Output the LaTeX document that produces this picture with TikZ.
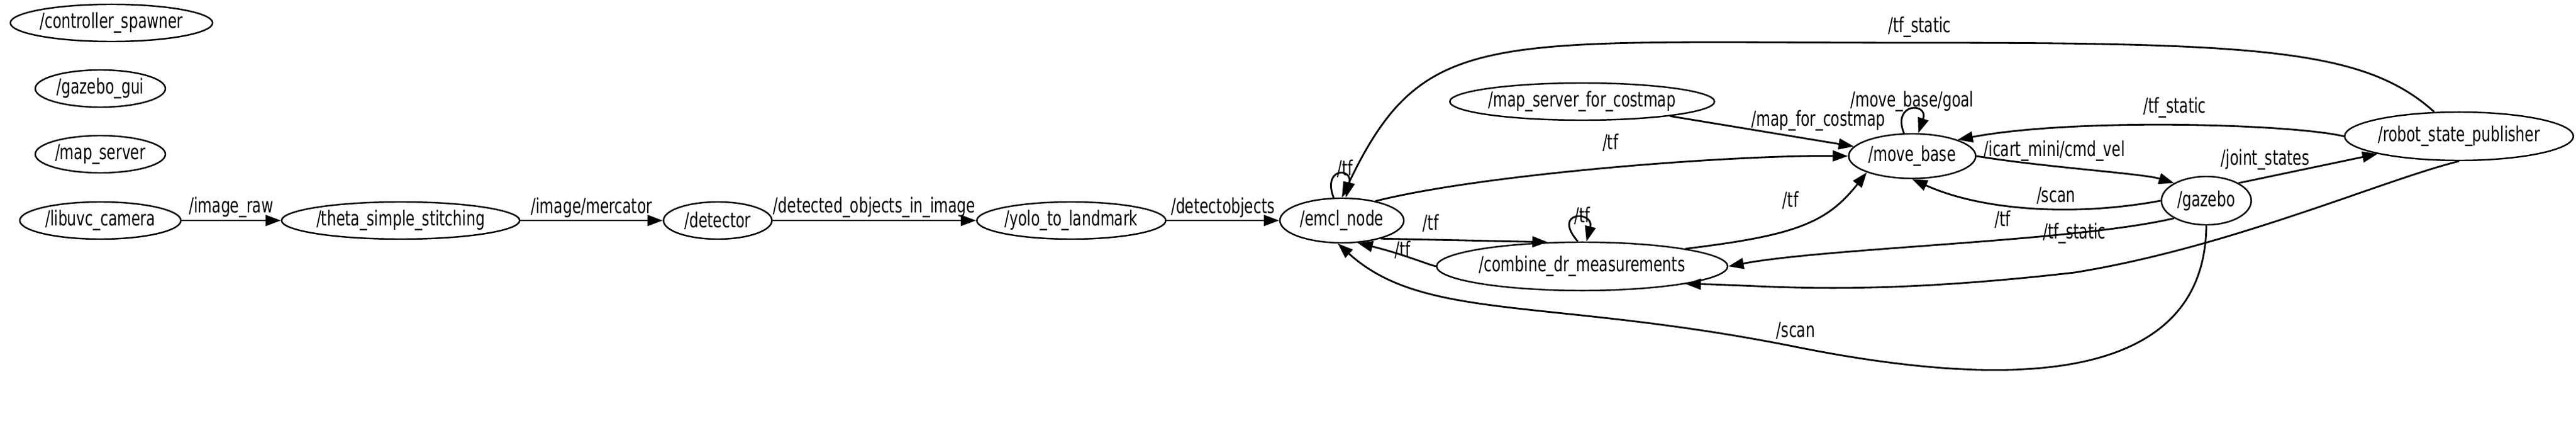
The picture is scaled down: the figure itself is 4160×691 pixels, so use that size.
\documentclass[tikz,border=0pt]{standalone}
\usepackage{fontspec}
\setmainfont[FakeStretch=0.78]{DejaVu Sans Condensed}
\usetikzlibrary{shapes.geometric, arrows.meta}

\begin{document}
\begin{tikzpicture}[x=0.01cm, y=-0.01cm, >={Triangle[length=7pt,width=5pt]},
  every node/.style={font=\fontsize{9.5}{11}\selectfont},
  rosnode/.style={draw, ellipse, line width=0.7pt, inner sep=0pt, minimum height=0.6cm},
  topic/.style={draw, line width=0.8pt, ->},
  lbl/.style={inner sep=1pt, fill=none}]

\useasboundingbox (0,0) rectangle (4160,691);

% nodes on the left
\node[rosnode, minimum width=2.9cm] (spawner) at (180,37) {/controller\_spawner};
\node[rosnode, minimum width=2.1cm] (gazebogui) at (162,143) {/gazebo\_gui};
\node[rosnode, minimum width=2.1cm] (mapserver) at (162,249) {/map\_server};
\node[rosnode, minimum width=2.6cm] (camera) at (162,356) {/libuvc\_camera};
\node[rosnode, minimum width=3.2cm] (stitching) at (647,356) {/theta\_simple\_stitching};
\node[rosnode, minimum width=1.75cm] (detector) at (1159,356) {/detector};
\node[rosnode, minimum width=3.05cm] (yolo) at (1730,356) {/yolo\_to\_landmark};

% nodes on the right
\node[rosnode, minimum width=2.0cm, minimum height=0.72cm] (emcl) at (2167,356) {/emcl\_node};
\node[rosnode, minimum width=4.3cm, minimum height=0.78cm] (combine) at (2555,430) {/combine\_dr\_measurements};
\node[rosnode, minimum width=3.95cm] (costmap) at (2555,164) {/map\_server\_for\_costmap};
\node[rosnode, minimum width=2.05cm, minimum height=0.72cm] (movebase) at (3088,252) {/move\_base};
\node[rosnode, minimum width=1.45cm, minimum height=0.78cm] (gazebo) at (3563,324) {/gazebo};
\node[rosnode, minimum width=3.3cm, minimum height=0.78cm] (rsp) at (3971,220) {/robot\_state\_publisher};

% image pipeline
\draw[topic] (camera) -- node[lbl, above] {/image\_raw} (stitching);
\draw[topic] (stitching) -- node[lbl, above] {/image/mercator} (detector);
\draw[topic] (detector) -- node[lbl, above] {/detected\_objects\_in\_image} (yolo);
\draw[topic] (yolo) -- node[lbl, above] {/detectobjects} (emcl);

% self loops
\draw[topic] (emcl.110) .. controls (2135,270) and (2185,270) .. (emcl.80);
\node at (2172,272) {/tf};
\draw[topic] (combine.100) .. controls (2505,340) and (2575,340) .. (combine.80);
\node (combself) at (2555,348) {/tf};
\draw[topic] (movebase.110) .. controls (3055,165) and (3115,165) .. (movebase.75);
\node at (3088,164) {/move\_base/goal};

% emcl / combine
\draw[topic] (emcl.30) .. controls (2400,280) and (2800,250) .. node[lbl, pos=0.5, above=6pt] {/tf} (movebase.west);
\draw[topic] (emcl.-25) -- node[lbl, pos=0.3, above=2pt] {/tf} (combine.145);
\draw[topic] (combine.west) .. controls (2300,425) and (2265,410) .. node[lbl, pos=0.5, above left=-2pt] {/tf} (emcl.-55);
\draw[topic] (combine.north east) .. controls (2900,380) and (2950,360) .. node[lbl, pos=0.55, above left=4pt] {/tf} (movebase.south west);

% move_base / gazebo
\draw[topic] (costmap) -- node[lbl, pos=0.45, above right=-2pt] {/map\_for\_costmap} (movebase);
\draw[topic] (movebase.east) .. controls (3300,270) and (3460,280) .. node[lbl, pos=0.35, above=1pt] {/icart\_mini/cmd\_vel} (gazebo.north west);
\draw[topic] (gazebo.west) .. controls (3350,350) and (3200,340) .. node[lbl, pos=0.4, above=1pt] {/scan} (movebase.south);
\draw[topic] (gazebo.south west) .. controls (3350,390) and (2950,400) .. node[lbl, pos=0.4, above=4pt] {/tf} (combine.east);
\draw[topic] (gazebo.south) .. controls (3560,640) and (3200,620) .. (2900,560)
  .. controls (2500,480) and (2300,520) .. node[lbl, pos=0.0, above=2pt] {/scan} (emcl.-100);
\draw[topic] (gazebo.north east) -- node[lbl, pos=0.5, above left=-2pt] {/joint\_states} (rsp.south west);

% robot_state_publisher
\draw[topic] (rsp.west) .. controls (3700,200) and (3350,190) .. node[lbl, pos=0.5, above=2pt] {/tf\_static} (movebase.north east);
\draw[topic] (rsp.south) .. controls (3850,290) and (3600,400) .. (3350,440)
  .. controls (3000,480) and (2850,460) .. node[lbl, pos=0.0, above=12pt] {/tf\_static} (combine.south east);
\draw[topic] (rsp.north) ++(-40,1) coordinate (rspA)
  .. controls (3820,80) and (3650,69) .. (3100,69)
  .. controls (2400,69) and (2300,40) .. node[lbl, pos=0.0, above=1pt] {/tf\_static} (emcl.north);
\end{tikzpicture}
\end{document}
